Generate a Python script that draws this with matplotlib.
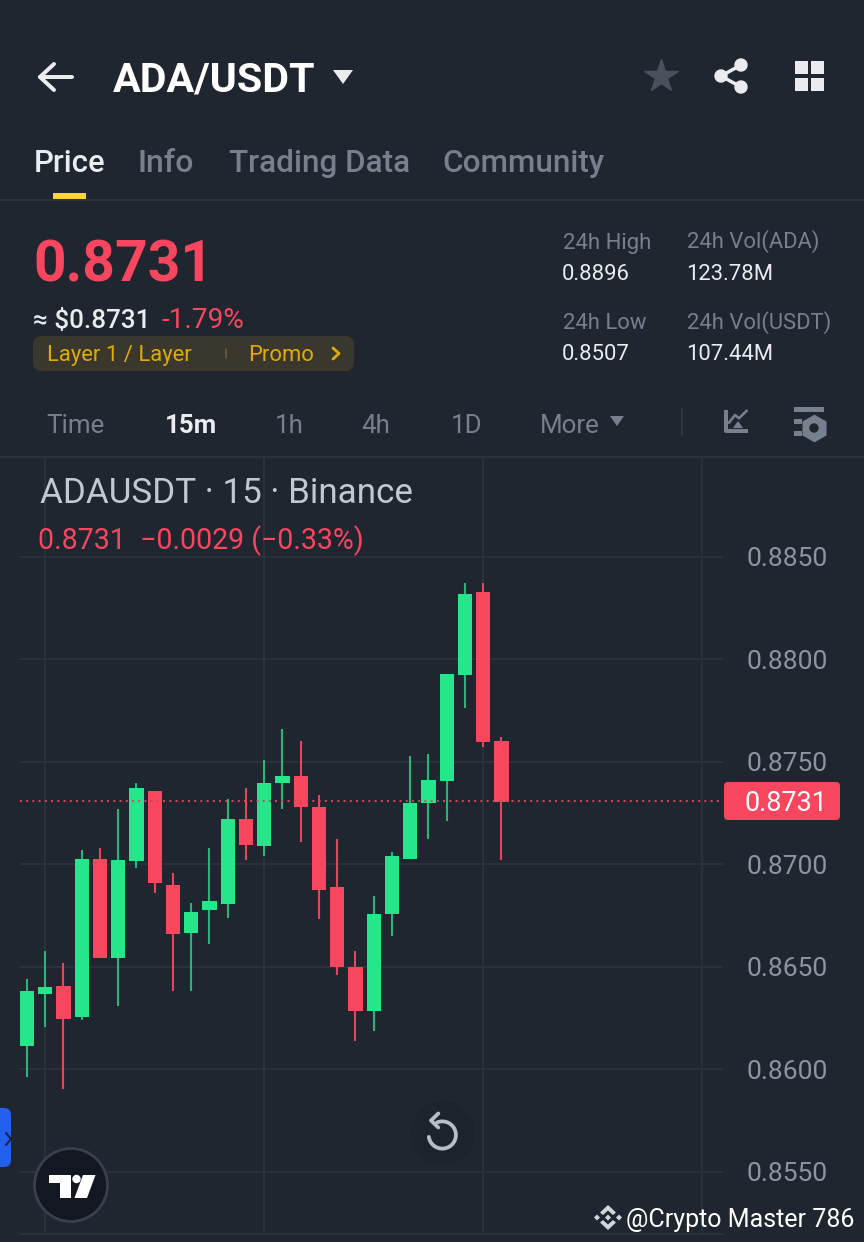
import numpy as np
import matplotlib
matplotlib.use("Agg")
import matplotlib.pyplot as plt
from matplotlib.patches import FancyBboxPatch, Circle, Rectangle, Polygon

plt.rcParams['font.family'] = ['Roboto', 'DejaVu Sans']

# ---------- data ----------
opens  = [.86116,.86367,.86407,.86258,.87028,.86545,.87019,.87360,.86900,.86667,.86777,.86807,.87220,
          .87088,.87396,.87430,.87280,.86892,.86501,.86287,.86757,.87025,.87299,.87409,.87926,.88331,.87601]
closes = [.86381,.86401,.86245,.87028,.86545,.87022,.87372,.86908,.86660,.86770,.86822,.87220,.87097,
          .87399,.87430,.87279,.86877,.86499,.86287,.86759,.87041,.87301,.87411,.87929,.88320,.87599,.87306]
highs  = [.86440,.86580,.86521,.87071,.87079,.87269,.87399,.87360,.86957,.86811,.87079,.87318,.87372,
          .87508,.87661,.87602,.87339,.87123,.86578,.86848,.87060,.87531,.87539,.87929,.88372,.88372,.87620]
lows   = [.85962,.86209,.85903,.86241,.86545,.86311,.86981,.86862,.86381,.86381,.86612,.86741,.87023,
          .87041,.87272,.87111,.86733,.86460,.86140,.86189,.86651,.87025,.87123,.87214,.87763,.87572,.87022]
last_price = 0.8731
price_ticks = [0.855, 0.860, 0.865, 0.870, 0.875, 0.880, 0.885]
time_ticks = [1, 13, 25, 37]

BG = '#1f2630'; GRID = '#2c333d'; UP = '#26e68c'; DOWN = '#f8465f'
WHITE = '#eaecef'; GREY = '#76808f'; YEL = '#e0aa0c'; AXT = '#8f95a0'

W, H = 864, 1242
fig = plt.figure(figsize=(W/100, H/100), dpi=100, facecolor=BG)

# ---------- chart ----------
L, R, T, B = 20, 723, 457, 1234
ax = fig.add_axes([L/W, 1-B/H, (R-L)/W, (B-T)/H], facecolor=BG)
ax.set_xlim((L-27.0)/18.25, (R-27.0)/18.25)
ax.set_ylim(0.885-(B-557)/20500, 0.885+(557-T)/20500)
ax.set_xticks(time_ticks); ax.set_xticklabels([])
ax.set_yticks(price_ticks); ax.set_yticklabels([f'{p:.4f}' for p in price_ticks])
ax.yaxis.tick_right()
ax.tick_params(axis='both', length=0)
ax.tick_params(axis='y', labelsize=19, labelcolor=AXT, pad=17)
ax.grid(True, color=GRID, lw=1.3)
ax.set_axisbelow(True)
for s in ['top','left','right']:
    ax.spines[s].set_visible(False)
ax.spines['bottom'].set_color(GRID); ax.spines['bottom'].set_linewidth(1.3)

idx = range(len(opens))
cols = [UP if c >= o else DOWN for o, c in zip(opens, closes)]
wickc = ['#2bb47a' if c == UP else '#e8455c' for c in cols]
ax.vlines(idx, lows, highs, colors=wickc, lw=1.5, zorder=3)
ax.bar(idx, [abs(c-o) for o, c in zip(opens, closes)], bottom=[min(o, c) for o, c in zip(opens, closes)],
       width=0.78, color=cols, zorder=4, linewidth=0)
ax.axhline(last_price, color='#d8455a', lw=1.4, ls=(0, (1, 2.2)), zorder=5)

# ---------- UI overlay in screen pixels ----------
ui = fig.add_axes([0, 0, 1, 1], facecolor='none')
ui.set_xlim(0, W); ui.set_ylim(H, 0); ui.axis('off')

def txt(x, y, s, px, c=WHITE, w='normal', ha='left', va='baseline'):
    return ui.text(x, y, s, fontsize=px*0.72, color=c, fontweight=w, ha=ha, va=va)

def pline(xs, ys, c=WHITE, lw=3, **k):
    ui.plot(xs, ys, color=c, lw=lw*0.72, solid_capstyle=k.pop('cap', 'round'), solid_joinstyle='round', **k)

def poly(pts, c):
    ui.add_patch(Polygon(pts, closed=True, color=c, lw=0, zorder=3))

# header
pline([40, 72], [77, 77], lw=4)
pline([54, 40, 54], [64, 77, 90], lw=4)
txt(113, 91, 'ADA/USDT', 41.3, 'white', 'bold')
poly([(333, 70), (353, 70), (343, 84)], WHITE)
ui.plot([661], [76], marker='*', ms=25, color='#4a505c', mec='#4a505c')
pline([741, 721, 741], [65, 76, 87], lw=3.5)
for (cx, cy) in [(741, 65), (721, 76), (741, 87)]:
    ui.add_patch(Circle((cx, cy), 6, color=WHITE))
for x0 in (794.5, 810.5):
    for y0 in (61, 77.5):
        ui.add_patch(Rectangle((x0, y0), 13, 13, color=WHITE, lw=0))

# tabs
txt(34, 172, 'Price', 31, WHITE, 'medium')
txt(138, 172, 'Info', 32, GREY, 'medium')
txt(229, 172, 'Trading Data', 31.5, GREY, 'medium')
txt(442, 172, 'Community', 31.5, GREY, 'medium')
ui.add_patch(Rectangle((53, 193), 33, 6.5, color='#fcd535', lw=0))
ui.plot([0, W], [200, 200], color=GRID, lw=1.5)

# price block
txt(33, 281, '0.8731', 57, DOWN, 'bold')
txt(33, 328, '≈ $0.8731', 26, WHITE, 'medium')
txt(161, 328, '-1.79%', 28, DOWN)
ui.add_patch(FancyBboxPatch((33, 336), 321, 35, boxstyle='round,pad=0,rounding_size=9', lw=0, fc='#3a372c'))
txt(47, 361, 'Layer 1 / Layer', 22, YEL)
txt(248, 361, 'Promo', 22, YEL)
pline([226, 226], [349, 358], c='#6b6230', lw=1.5)
pline([333, 339, 333], [348, 353.5, 359], c=YEL, lw=2.8)

# stats
txt(563, 249, '24h High', 22.2, GREY)
txt(562, 280, '0.8896', 22, WHITE)
txt(687, 248, '24h Vol(ADA)', 22, GREY)
txt(686, 280, '123.78M', 22, WHITE)
txt(563, 329, '24h Low', 22, GREY)
txt(562, 360, '0.8507', 22, WHITE)
txt(687, 329, '24h Vol(USDT)', 22, GREY)
txt(686, 360, '107.44M', 22, WHITE)

# intervals
for x, s in [(46, 'Time'), (275, '1h'), (361, '4h'), (451, '1D'), (540, 'More')]:
    txt(x, 433, s, 26, GREY)
txt(165, 433, '15m', 26, WHITE, 'bold')
poly([(610, 416), (624, 416), (617, 426)], GREY)
pline([682, 682], [408, 435], c='#343a45', lw=1.5)
# indicator icon
pline([726.3, 726.3, 748], [410, 431, 431], c=GREY, lw=4, cap='butt')
pline([729, 735, 739, 746.7], [422.7, 415, 418.3, 410.7], c=GREY, lw=2.6)
poly([(733, 428), (743, 428), (738, 421)], GREY)
# settings icon
ui.add_patch(Rectangle((794, 407.3), 29.5, 4.7, color=GREY, lw=0))
ui.add_patch(Rectangle((794, 419.3), 8.3, 4.7, color=GREY, lw=0))
ui.add_patch(Rectangle((794, 430.7), 8.3, 5, color=GREY, lw=0))
ui.plot([814], [428], marker='h', ms=20, color=GREY, mew=0, zorder=3)
ui.add_patch(Circle((814, 428), 4.7, color=BG, lw=0, zorder=4))
ui.plot([0, W], [457, 457], color=GRID, lw=1.5)

# chart legend
txt(39.5, 503, 'ADAUSDT · 15 · Binance', 35, '#c3c7ce')
txt(38, 549, '0.8731  −0.0029 (−0.33%)', 28.5, DOWN)

# last price tag
ui.add_patch(FancyBboxPatch((724, 782), 116, 38, boxstyle='round,pad=0,rounding_size=4', lw=0, fc=DOWN))
txt(786, 803.5, f'{last_price:.4f}', 27, 'white', ha='center', va='center')

# side tab
ui.add_patch(FancyBboxPatch((-12, 1108), 23, 59, boxstyle='round,pad=0,rounding_size=7', lw=0, fc='#2460f0'))
pline([6, 11], [1133, 1139], c='#14203c', lw=2)
pline([6, 11], [1145, 1139], c='#14203c', lw=2)

# reset button
ui.add_patch(Circle((443, 1133), 32, fc='#1c232c', ec='none'))
t = np.radians(np.arange(-113, 174, 3))
pline(442.3 + 13.6*np.cos(t), 1135 + 13.6*np.sin(t), c='#b9bdc5', lw=3.8)
pline([438.3, 431, 438.3], [1113.5, 1120.5, 1127.5], c='#b9bdc5', lw=3.8)

# TradingView logo
ui.add_patch(Circle((71, 1185), 36.5, fc='#131722', ec='#3a3f4b', lw=2))
poly([(48.5, 1175), (70.5, 1175), (70.5, 1198), (59.5, 1198), (59.5, 1183), (48.5, 1183)], 'white')
ui.add_patch(Circle((76.5, 1179), 4.2, color='white', lw=0, zorder=3))
poly([(83, 1175), (95.5, 1175), (87, 1198), (74.5, 1198)], 'white')

# watermark
cx, cy, c = 608, 1217.5, '#d4d6da'
poly([(cx, cy-12.5), (cx+8, cy-5), (cx+5, cy-2.5), (cx, cy-7), (cx-5, cy-2.5), (cx-8, cy-5)], c)
poly([(cx, cy+12.5), (cx+8, cy+5), (cx+5, cy+2.5), (cx, cy+7), (cx-5, cy+2.5), (cx-8, cy+5)], c)
for dx in (-11, 11):
    poly([(cx+dx-3, cy), (cx+dx, cy-3), (cx+dx+3, cy), (cx+dx, cy+3)], c)
poly([(cx-3, cy), (cx, cy-3), (cx+3, cy), (cx, cy+3)], c)
txt(625.5, 1227, '@Crypto Master 786', 25, 'white')

fig.savefig('out.png', dpi=100, facecolor=BG)
